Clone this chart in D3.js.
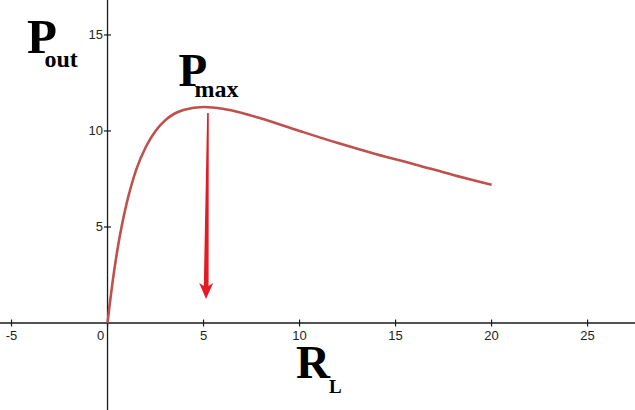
<!DOCTYPE html>
<html>
<head>
<meta charset="utf-8">
<script src="https://cdn.jsdelivr.net/npm/d3@7/dist/d3.min.js"></script>
<style>
  html, body { margin: 0; padding: 0; background: #fff; }
  svg { display: block; }
</style>
</head>
<body>
<svg id="chart" width="635" height="410"></svg>
<script>
// ---- data ----
const rl   = [0, 0.1, 0.25, 0.5, 0.75, 1, 1.25, 1.5, 2, 2.5, 3, 3.5, 4, 5, 6, 7, 8, 10, 12, 14, 16, 18, 20];
const pout = [0, 0.87, 2.04, 3.72, 5.1, 6.25, 7.2, 8.0, 9.18, 10.0, 10.55, 10.91, 11.11, 11.25, 11.16, 10.94, 10.65, 10.0, 9.37, 8.79, 8.26, 7.71, 7.2];
const xTicks = [-5, 0, 5, 10, 15, 20, 25];
const yTicks = [5, 10, 15];
const arrowFrom = [5.23, 10.94];
const arrowTo   = [5.13, 1.25];

const W = 635, H = 410;
const svg = d3.select("#chart");

const x = d3.scaleLinear().domain([-5.6, 27.47]).range([0, W]);
const y = d3.scaleLinear().domain([16.82, -4.53]).range([0, H]);

const axisColor = "#1a1a1a";

// x axis
const gx = svg.append("g").attr("transform", `translate(0,${y(0)})`);
gx.append("line").attr("x1", 0).attr("x2", W).attr("stroke", axisColor).attr("stroke-width", 1.3);
gx.selectAll(".tk").data(xTicks).enter().append("line")
  .attr("x1", d => x(d)).attr("x2", d => x(d)).attr("y1", -3.5).attr("y2", 3.5)
  .attr("stroke", axisColor).attr("stroke-width", 1.2);
gx.selectAll(".lb").data(xTicks).enter().append("text")
  .attr("x", d => d === 0 ? x(d) - 7 : x(d))
  .attr("y", 17)
  .attr("text-anchor", "middle")
  .attr("font-family", "Liberation Sans, Arial, sans-serif")
  .attr("font-size", 13)
  .attr("fill", "#222")
  .text(d => d);

// y axis
const gy = svg.append("g").attr("transform", `translate(${x(0)},0)`);
gy.append("line").attr("y1", 0).attr("y2", H).attr("stroke", axisColor).attr("stroke-width", 1.3);
gy.selectAll(".tk").data(yTicks).enter().append("line")
  .attr("y1", d => y(d)).attr("y2", d => y(d)).attr("x1", -3.5).attr("x2", 3.5)
  .attr("stroke", axisColor).attr("stroke-width", 1.2);
gy.selectAll(".lb").data(yTicks).enter().append("text")
  .attr("x", -4.5)
  .attr("y", d => y(d) + 4.5)
  .attr("text-anchor", "end")
  .attr("font-family", "Liberation Sans, Arial, sans-serif")
  .attr("font-size", 13)
  .attr("fill", "#222")
  .text(d => d);

// curve
const pts = rl.map((r, i) => [r, pout[i]]);
const line = d3.line().x(d => x(d[0])).y(d => y(d[1])).curve(d3.curveMonotoneX);
svg.append("path")
  .attr("d", line(pts))
  .attr("fill", "none")
  .attr("stroke", "#c0504d")
  .attr("stroke-width", 2.6)
  .attr("stroke-linecap", "butt");

// tapered arrow
const ax0 = x(arrowFrom[0]), ay0 = y(arrowFrom[1]);
const ax1 = x(arrowTo[0]), ay1 = y(arrowTo[1]);
const headLen = 15, headHalf = 7;
const baseY = ay1 - headLen;
const t = (baseY - ay0) / (ay1 - ay0);
const bx = ax0 + (ax1 - ax0) * t;
const arrow = [
  [ax0 - 0.8, ay0],
  [ax0 + 0.8, ay0],
  [bx + 2.4, baseY + 2],
  [bx + headHalf, baseY - 1],
  [ax1, ay1],
  [bx - headHalf, baseY - 1],
  [bx - 2.4, baseY + 2]
];
svg.append("path")
  .attr("d", "M" + arrow.map(p => p.join(",")).join("L") + "Z")
  .attr("fill", "#e31b23");

// labels
const serif = "Liberation Serif, Times New Roman, serif";
function label(tx, ty, size, txt) {
  svg.append("text").attr("x", tx).attr("y", ty)
    .attr("font-family", serif).attr("font-weight", "bold")
    .attr("font-size", size).attr("fill", "#000").text(txt);
}
label(27, 53, 49, "P");
label(44.5, 67, 24, "out");
label(178.5, 86, 47, "P");
label(194.5, 97, 24, "max");
label(296, 378, 47, "R");
label(329, 393, 19, "L");
</script>
</body>
</html>
